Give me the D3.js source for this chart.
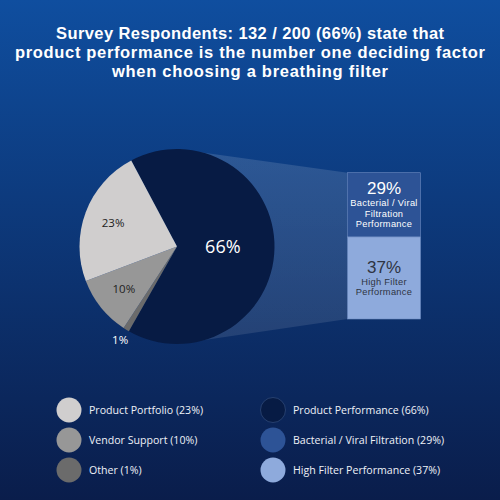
<!DOCTYPE html>
<html><head><meta charset="utf-8">
<script src="https://cdn.jsdelivr.net/npm/d3@7"></script>
<style>html,body{margin:0;padding:0;background:#0b2150;}svg{display:block;}</style>
</head><body>
<script>
const titleLines = ["Survey Respondents: 132 / 200 (66%) state that","product performance is the number one deciding factor","when choosing a breathing filter"];
const pieLabels = ["Product Performance","Other","Vendor Support","Product Portfolio"];
const pieValues = [66,1,10,23];
const pieColors = ["#071b44","#6b6b6b","#979797","#d0cece"];
const barLabels = [["Bacterial / Viral","Filtration","Performance"],["High Filter","Performance"]];
const barValues = [29,37];
const barColors = ["#2d5396","#8eaadc"];
const legendLeft = ["Product Portfolio (23%)","Vendor Support (10%)","Other (1%)"];
const legendLeftColors = ["#d0cece","#979797","#6b6b6b"];
const legendRight = ["Product Performance (66%)","Bacterial / Viral Filtration (29%)","High Filter Performance (37%)"];
const legendRightColors = ["#071b44","#2d5396","#8eaadc"];

const W=500,H=500;
const font="'Open Sans', sans-serif";
const barFont="'Liberation Sans', Arial, sans-serif";
const svg=d3.select("body").append("svg").attr("width",W).attr("height",H);
const defs=svg.append("defs");
const bg=defs.append("linearGradient").attr("id","bg").attr("x1",0).attr("y1",0).attr("x2",0).attr("y2",1);
bg.append("stop").attr("offset","0%").attr("stop-color","#0f4e9f");
bg.append("stop").attr("offset","100%").attr("stop-color","#0a1d4b");
svg.append("rect").attr("width",W).attr("height",H).attr("fill","url(#bg)");

// title
const titleWidths=[388,470,276];
svg.append("g").selectAll("text").data(titleLines).join("text")
  .attr("text-anchor","middle").attr("fill","#ffffff")
  .attr("font-family",barFont).attr("font-weight",700).attr("font-size",16.5)
  .attr("x",250).attr("y",(d,i)=>39+i*19.2)
  .attr("textLength",(d,i)=>titleWidths[i]).attr("lengthAdjust","spacing")
  .text(d=>d);

// pie
const cx=177, cy=246.5, r=97.5;
const start=-28*Math.PI/180;
const pie=d3.pie().sort(null).startAngle(start).endAngle(start+2*Math.PI);
const arcs=pie(pieValues);
const arc=d3.arc().innerRadius(0).outerRadius(r);

// bar geometry via scale
const barX=347.5, barW=73, barTop=172.7, barBottom=319;
const total=d3.sum(barValues);
const y=d3.scaleLinear().domain([0,total]).range([barTop,barBottom]);

// connector
const conn=defs.append("linearGradient").attr("id","conn").attr("x1",0).attr("y1",0).attr("x2",0).attr("y2",1);
conn.append("stop").attr("offset","0%").attr("stop-color","#ffffff").attr("stop-opacity",0.13);
conn.append("stop").attr("offset","100%").attr("stop-color","#ffffff").attr("stop-opacity",0.1);
svg.append("path")
  .attr("d",`M${cx},${cy-r}L${barX},${y(0)}L${barX},${y(total)}L${cx},${cy+r}Z`)
  .attr("fill","url(#conn)");

const g=svg.append("g").attr("transform",`translate(${cx},${cy})`);
g.selectAll("path").data(arcs).join("path").attr("d",arc).attr("fill",(d,i)=>pieColors[i]);

function labelR(d){const p=d.data/100; if(p>0.5) return r*0.47; if(p<0.03) return r*1.12; return r*0.7;}
g.selectAll("text").data(arcs).join("text")
  .attr("transform",d=>{const a=(d.startAngle+d.endAngle)/2, rr=labelR(d);return `translate(${Math.sin(a)*rr},${-Math.cos(a)*rr})`;})
  .attr("text-anchor","middle").attr("dy","0.35em")
  .attr("font-family",font)
  .attr("font-size",d=>d.data>50?18:11.5)
  .attr("fill",(d,i)=>(d.data>50||d.data<3)?"#ffffff":"#222222")
  .text(d=>d.data+"%");

// bar
const stack=[];let acc=0;barValues.forEach((v,i)=>{stack.push({v,i,y0:acc,y1:acc+v});acc+=v;});
const bg2=svg.append("g");
bg2.selectAll("rect").data(stack).join("rect")
  .attr("x",barX).attr("width",barW)
  .attr("y",d=>y(d.y0)).attr("height",d=>y(d.y1)-y(d.y0))
  .attr("fill",d=>barColors[d.i]).attr("stroke","#6f8cc2").attr("stroke-width",0.6);
const capH=12, numGap=12.3, lineGap=10.5;
stack.forEach(d=>{
  const top=y(d.y0), h=y(d.y1)-y(d.y0), mid=top+h/2;
  const lines=barLabels[d.i];
  const textH=capH+numGap+(lines.length-1)*lineGap;
  const numBase=mid-textH/2+capH;
  const col=d.i===0?"#ffffff":"#2e3442";
  bg2.append("text").attr("x",barX+barW/2).attr("y",numBase).attr("text-anchor","middle")
    .attr("font-family",barFont).attr("font-size",17).attr("fill",col).text(d.v+"%");
  lines.forEach((l,j)=>{
    bg2.append("text").attr("x",barX+barW/2).attr("y",numBase+numGap+j*lineGap).attr("text-anchor","middle")
      .attr("font-family",barFont).attr("font-size",9.3).attr("letter-spacing",0.3).attr("fill",col).text(l);
  });
});

// legend
function legend(items,colors,x){
  const lg=svg.append("g");
  items.forEach((t,i)=>{
    const yy=410+i*30;
    lg.append("circle").attr("cx",x).attr("cy",yy).attr("r",12.5).attr("fill",colors[i])
      .attr("stroke",colors[i]==="#071b44"?"#3a5685":"none").attr("stroke-width",0.6);
    lg.append("text").attr("x",x+20).attr("y",yy).attr("dy","0.35em")
      .attr("font-family",font).attr("font-size",10.6).attr("fill","#eef1f7").text(t);
  });
}
legend(legendLeft,legendLeftColors,69);
legend(legendRight,legendRightColors,273);
</script>
</body></html>
